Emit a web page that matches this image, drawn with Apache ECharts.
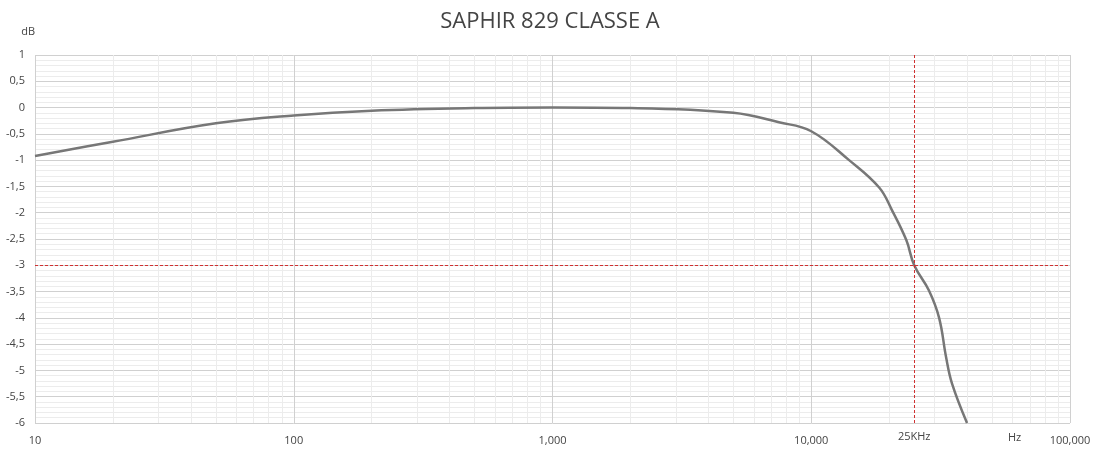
<!DOCTYPE html>
<html>
<head>
<meta charset="utf-8">
<script src="https://cdn.jsdelivr.net/npm/echarts@6/dist/echarts.min.js"></script>
<style>html,body{margin:0;background:#fff}#chart{width:1100px;height:453px}</style>
</head>
<body>
<div id="chart"></div>
<script>
// frequency (Hz) and level (dB)
let freqs = [10, 20, 50, 100, 200, 500, 1000, 2000, 5000, 7500, 10000, 14000, 18300, 20500, 23300, 25000, 28500, 31200, 33200, 35000, 40000];
let levels = [-0.92, -0.65, -0.3, -0.15, -0.06, -0.01, 0, -0.01, -0.1, -0.28, -0.45, -1.0, -1.52, -1.95, -2.52, -3.0, -3.48, -4.0, -4.75, -5.25, -6.0];
let cutoffFreq = 25000;
let cutoffLevel = -3;

let chart = echarts.init(document.getElementById('chart'));
chart.setOption({
    animation: false,
    title: {
        text: 'SAPHIR 829 CLASSE A',
        left: 'center',
        top: 6,
        textStyle: { fontFamily: 'Open Sans', fontWeight: 'normal', fontSize: 22, color: '#444' }
    },
    grid: { left: 35, right: 30, top: 55, bottom: 30 },
    xAxis: {
        type: 'log',
        logBase: 10,
        min: 10,
        max: 100000,
        axisLine: { show: false },
        axisTick: { show: false },
        axisLabel: { fontFamily: 'Open Sans', fontSize: 11, color: '#444', margin: 12 },
        splitLine: { lineStyle: { color: '#d0d0d0' } },
        minorTick: { show: false, splitNumber: 9 },
        minorSplitLine: { show: true, lineStyle: { color: '#ececec' } }
    },
    yAxis: {
        type: 'value',
        min: -6,
        max: 1,
        interval: 0.5,
        name: 'dB',
        nameGap: 18,
        nameTextStyle: { fontFamily: 'Open Sans', fontSize: 11, color: '#444', align: 'right' },
        axisLine: { show: false },
        axisTick: { show: false },
        axisLabel: {
            fontFamily: 'Open Sans', fontSize: 11, color: '#444', margin: 10,
            formatter: v => String(v).replace('.', ',')
        },
        splitLine: { lineStyle: { color: '#d0d0d0' } },
        minorTick: { show: false, splitNumber: 5 },
        minorSplitLine: { show: true, lineStyle: { color: '#ececec' } }
    },
    graphic: [{
        type: 'text', left: 1008, top: 432,
        style: { text: 'Hz', fontFamily: 'Open Sans', fontSize: 11, fill: '#444' }
    }],
    series: [{
        type: 'line',
        data: freqs.map((f, i) => [f, levels[i]]),
        smooth: 0.4,
        showSymbol: false,
        lineStyle: { color: '#777', width: 2.5 },
        markLine: {
            silent: true,
            symbol: 'none',
            lineStyle: { color: '#d03030', type: [3, 2], width: 1 },
            data: [
                { xAxis: cutoffFreq, label: { show: true, position: 'start', formatter: '25KHz', fontFamily: 'Open Sans', fontSize: 11, color: '#444', distance: 8 } },
                { yAxis: cutoffLevel, label: { show: false } }
            ]
        }
    }]
});
</script>
</body>
</html>
